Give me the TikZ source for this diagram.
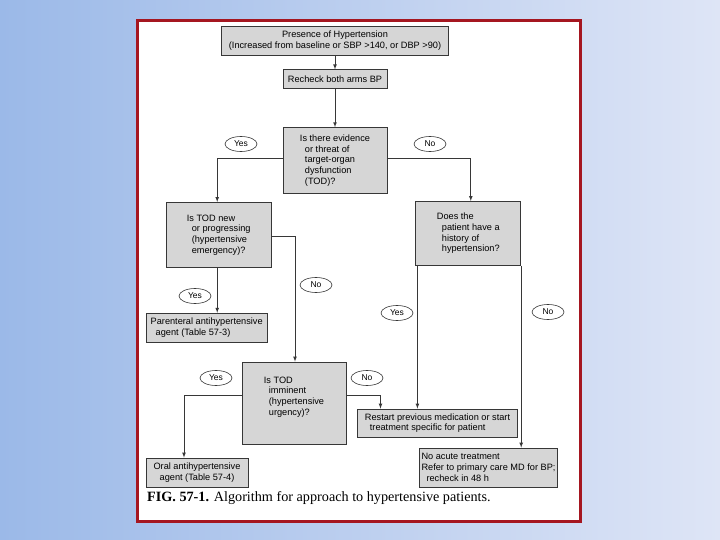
\documentclass[tikz,border=0pt]{standalone}
\usepackage{fontspec}
\usepackage{xcolor}
\setmainfont{Liberation Serif}
\newfontfamily\flowfont{Liberation Sans}
\usetikzlibrary{shapes,arrows,positioning,calc}
\definecolor{bgleft}{RGB}{155,185,232}
\definecolor{bgright}{RGB}{222,229,246}
\definecolor{framered}{RGB}{165,22,32}
\definecolor{boxgray}{RGB}{214,214,214}
\definecolor{linegray}{RGB}{55,55,55}
\newcommand{\ind}{\hspace*{5pt}}

\tikzset{
  box/.style={rectangle, draw=linegray, line width=0.8pt, fill=boxgray, align=left,
    inner sep=2pt, font=\flowfont\fontsize{9.2}{10.7}\selectfont},
  answer/.style={ellipse, draw=linegray, line width=0.6pt, fill=white, inner sep=0pt,
    minimum width=32pt, minimum height=15pt, font=\flowfont\fontsize{8.5}{10}\selectfont},
  arr/.style={-latex, draw=linegray, line width=0.7pt}
}

\begin{document}
\begin{tikzpicture}[x=1pt, y=-1pt]
  % background and frame
  \useasboundingbox (0,0) rectangle (720,540);
  \shade[left color=bgleft, right color=bgright] (0,0) rectangle (720,540);
  \draw[framered, line width=3pt, fill=white] (137,21) rectangle (580,521);

  % top chain
  \node[box, align=center, minimum width=227pt, minimum height=29pt] (pres) at (335,40.5)
    {Presence of Hypertension\\(Increased from baseline or SBP >140, or DBP >90)};
  \node[box, align=center, minimum width=104pt, minimum height=19pt, below=14pt of pres] (recheck)
    {Recheck both arms BP};
  \node[box, minimum width=104pt, minimum height=66pt, below=38pt of recheck] (tod)
    {Is there evidence\\\ind or threat of\\\ind target-organ\\\ind dysfunction\\\ind (TOD)?};

  % second level
  \node[box, minimum width=105pt, minimum height=65pt, below left=8pt and 11pt of tod] (new)
    {Is TOD new\\\ind or progressing\\\ind (hypertensive\\\ind emergency)?};
  \node[box, minimum width=105pt, minimum height=64pt, below right=7pt and 28pt of tod] (hist)
    {Does the\\\ind patient have a\\\ind history of\\\ind hypertension?};

  % lower boxes
  \node[box, minimum width=121pt, minimum height=29pt, below=45pt of new, xshift=-12pt] (parent)
    {Parenteral antihypertensive\\\ind agent (Table 57-3)};
  \node[box, minimum width=104pt, minimum height=82pt] (imminent) at (294,403)
    {Is TOD\\\ind imminent\\\ind (hypertensive\\\ind urgency)?\\[3.3pt]\mbox{}};
  \node[box, minimum width=160pt, minimum height=28pt] (restart) at (437.5,423)
    {Restart previous medication or start\\\ind treatment specific for patient};
  \node[box, minimum width=137pt, minimum height=39pt] (noacute) at (488.5,467.5)
    {No acute treatment\\Refer to primary care MD for BP;\\\ind recheck in 48 h};
  \node[box, align=center, minimum width=102pt, minimum height=29pt] (oral) at (197,472.5)
    {Oral antihypertensive\\agent (Table 57-4)};

  % connectors
  \draw[arr] (pres) -- (recheck);
  \draw[arr] (recheck) -- (tod);
  \draw[arr] ([yshift=2pt]tod.west) -| ([xshift=-1.5pt]new.north);
  \draw[arr] ([yshift=2pt]tod.east) -| ([xshift=2.5pt]hist.north);
  \draw[arr] ([xshift=-1.5pt]new.south) -- ([xshift=-1.5pt]new.south |- parent.north);
  \draw[arr] ([yshift=-1.5pt]new.east) -| ([xshift=1pt]imminent.north);
  \draw[arr] ([xshift=2pt]hist.south west) -- ([xshift=2pt]hist.south west |- restart.north);
  \draw[arr] (hist.south east) -- (hist.south east |- noacute.north);
  \draw[arr] ([yshift=8pt]imminent.west) -| ([xshift=-13pt]oral.north);
  \draw[arr] ([yshift=8pt]imminent.east) -| ([xshift=-57pt]restart.north);

  % answers
  \node[answer] (yes1) at (241,144) {Yes};
  \node[answer] (no1) at (430,144) {No};
  \node[answer] (yes2) at (195,296) {Yes};
  \node[answer] (no2) at (316,285) {No};
  \node[answer] (yes3) at (397,313) {Yes};
  \node[answer] (no3) at (548,312) {No};
  \node[answer] (yes4) at (216,378) {Yes};
  \node[answer] (no4) at (367,378) {No};

  % caption
  \node[anchor=base west, inner sep=0pt, font=\fontsize{14.2}{16}\selectfont] (caption) at (147,501)
    {\textbf{FIG. 57-1.} Algorithm for approach to hypertensive patients.};
\end{tikzpicture}
\end{document}
